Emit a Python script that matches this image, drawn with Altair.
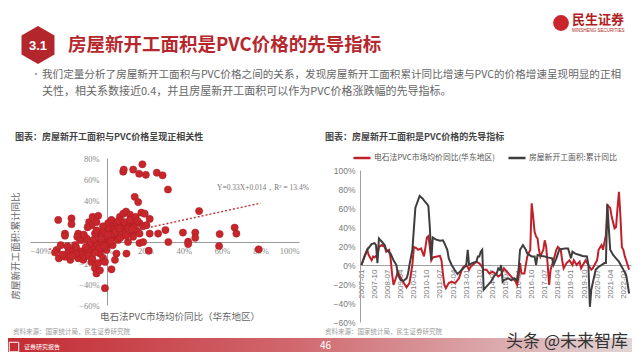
import altair as alt
import pandas as pd

# ---------------- data ----------------
scatter_x_pct = [-25.3, -18.4, -18.4, -21.8, -21.8, -14.9, -15.4, -9.2, -7.4, -4.5, -5.4, -8.0,
                 -26.0, -25.0, -21.8, -19.0, -20.0, -17.5, -16.6, -14.0, -12.3, -10.6, -13.2, -14.9,
                 -12.3, -10.6, -8.8, -7.1, -5.4, -3.6, -2.8, -1.9, -1.0, -6.2, -5.4, -8.0, -6.2, -5.4,
                 -3.6, -4.5, -1.0, 2.4, 4.2, 5.0, 10.2, 11.0, 17.0, 18.9, 22.3, 26.7, 32.0, 21.8,
                 0.7, 2.4, 3.3, 5.0, 6.8, 8.5, 10.0, 12.0, 13.7, 14.5, 16.3, 18.0, 19.7, 22.3, 17.0,
                 18.9, 20.6, 15.4, 12.8, 9.4, 6.8, 4.2, 1.6, 2.4, 5.9, 8.0, 11.0, 13.7, 17.0, -0.2,
                 -1.9, -3.6, -0.2, 8.5, 8.8, 13.7, 18.5, 16.8, 20.3, 26.0, 29.0, 31.8, 48.0, 30.5,
                 39.6, 46.0, 46.0, 42.3, 42.3, 58.7, 58.4, 66.5, 67.4, 79.0, -2.0, 0.5, 1.0, 3.0,
                 4.0, 6.0, 7.0, 9.0, 10.0, 11.0, 12.0, 14.0, 15.0, 16.0, -3.0, -4.0, -6.0, -7.0,
                 -9.0, -11.0, -13.0, -16.0, -18.0, -23.0, -2.0, -1.0, 1.0, 3.0, -10.0, -12.0, -27.0,
                 -24.0, -20.5, -16.0, -11.5, -9.5, -7.5, -3.0, -1.5, 0.5, 2.0, 4.5, 6.5, 13.0]
scatter_y_pct = [21.0, 22.5, 17.0, 8.0, 6.0, 8.0, 5.0, 19.0, 24.0, 25.0, 19.0, 16.0,
                 -7.6, -15.5, -14.0, -17.0, -9.0, -7.6, -2.9, 2.0, 2.0, 3.5, -9.0, -15.5,
                 -17.0, -10.8, -7.6, -4.4, -1.3, 5.0, 8.0, 11.0, 2.0, 8.0, 11.0, -19.0, -25.0, -30.0,
                 -27.0, -20.0, -44.0, -26.0, -17.0, -11.0, -11.0, 0.0, -1.0, 0.0, 8.0, 8.0, 0.0, -8.3,
                 18.0, 21.0, 15.0, 18.0, 24.0, 27.0, 29.0, 26.0, 18.0, 43.0, 38.0, 28.0, 27.0, 22.0, 18.0,
                 15.0, 16.0, 11.0, 8.0, 11.0, 8.0, 5.0, 10.0, 3.5, 2.0, 15.0, 18.0, 5.0, 8.0, -3.0,
                 -6.0, -11.0, -7.6, 67.0, 69.0, 69.0, 74.0, 65.0, 64.0, 66.0, 63.5, 50.0, 29.5, 11.4,
                 9.0, 9.0, 4.0, 0.3, -2.0, 7.6, -3.8, 13.7, 8.0, -7.0, 15.0, 5.0, 12.0, 8.0,
                 12.0, 20.0, 4.0, 19.0, 6.0, 13.0, 21.0, 14.0, 24.0, 20.0, 0.0, -6.0, -10.0, 2.0,
                 -2.0, -5.0, -12.0, -11.0, -13.0, -12.0, -15.0, -19.0, -1.0, -3.0, 14.0, 7.0, -10.0,
                 -3.0, -4.0, -5.0, -14.0, -13.0, -16.0, 3.0, -4.0, 7.0, 1.0, 10.0, 13.0, 12.0]

trend_x_pct = [-30.0, 80.0]
trend_y_pct = [-7.0, 37.0]

scatter_x_ticks = [-0.4, -0.2, 0.0, 0.2, 0.4, 0.6, 0.8, 1.0]
scatter_y_ticks = [-0.6, -0.4, -0.2, 0.0, 0.2, 0.4, 0.6, 0.8]

# months counted from 2007-01 (index 0)
pvc_month_idx = [0, 2, 4, 5, 7, 8, 9, 10, 11, 12, 14, 16, 17, 19, 20, 21, 22, 24, 25, 26, 28, 30,
                 31, 33, 34, 35, 36, 38, 39, 41, 43, 44, 45, 46, 47, 48, 49, 52, 54, 55, 56, 57, 58,
                 60, 62, 64, 65, 67, 69, 70, 72, 74, 75, 78, 79, 81, 82, 84, 86, 88, 90, 92, 94, 96,
                 98, 100, 102, 104, 106, 107, 108, 109, 110, 112, 114, 116, 117, 118, 119, 120, 121,
                 122, 123, 125, 126, 127, 128, 129, 130, 131, 132, 134, 135, 137, 138, 139, 141, 143,
                 145, 146, 148, 150, 151, 153, 154, 156, 158, 159, 162, 163, 165, 166, 168, 169, 171,
                 172, 174, 175, 176, 177, 178, 179, 180, 181, 182, 183, 184]
pvc_values = [0, 9, 16, 10.5, 5, 9, 8, 9.5, 9, 19, 21, 19, 14, 16, 7, -9, -21, -12, -7, -10.5, -16,
              -21, -23.5, -19, -9, 0, 19, 17.5, 16, 17.5, 9, 19, 29, 30.5, 19, 5, 8, 9, 9.5, 5, -9,
              -21, -24.5, -19, -17.5, -19, -18, -14, -5, -2, 0, -5, -2, 2, 3.5, 1.8, 0, -5, -5, -9,
              -7, -9, -12, -10, -3.5, -7, -10.5, -14, -17.5, -21, -12, 2, -9, -9, 9, 16, 65, 51, 35,
              30, 28, 16, 9, 16, 26, 19, 0, -21, -5, 0, 5, 16, 19, 16, 5, -3.5, 2, 5, 0, 5, 0, 3.5,
              -3.5, 2, 5, 0, -5, -3.5, 5, 16, 21, 16, 31.6, 63, 60, 51, 38.6, 40, 60, 77, 51, 19,
              16, 9, 5, 0, -5]

starts_month_idx = [0, 4, 7, 9, 10, 11, 12, 14, 16, 17, 20, 22, 24, 25, 27, 29, 31, 32, 33, 35, 37,
                    40, 42, 43, 45, 46, 47, 48, 49, 51, 54, 56, 57, 59, 60, 62, 64, 66, 67, 69, 71,
                    72, 73, 74, 76, 79, 80, 81, 82, 83, 84, 87, 89, 91, 93, 94, 95, 96, 97, 98, 101,
                    103, 105, 107, 108, 109, 111, 113, 114, 117, 119, 120, 121, 124, 126, 128, 131,
                    132, 134, 136, 137, 140, 142, 144, 145, 147, 150, 152, 155, 156, 157, 158, 160,
                    161, 163, 165, 167, 168, 169, 170, 171, 173, 175, 177, 179, 181, 182, 183, 184]
starts_values = [0, 16, 22, 23, 21, 2, 28, 24.5, 21, 16, 12, 5, 0, -10.5, -16, -16.5, -14, -9, 0, 16,
                 60, 72.6, 70, 68, 64.5, 62, 40, 5, 29, 27, 25.5, 26, 23, 16, 7, 0, -5, -9.5, -8, -5,
                 -2, 0, 16, 0, 2, 3.5, 9, 9, 14, 16, -26, -21, -17.5, -12, -9, -3.5, -5, 0, -17.5, -16,
                 -14, -16, -14, -16, -5, 16, 21, 16, 12, 9, 9, 0, 10.5, 9.5, 9, 8, 7, 0, 7, 16, 16.5,
                 17.5, 17.5, 7, 14, 12, 10.5, 9.5, 9, 0, -44, -26, -12, -5, -2, 0, 2, 2, 64, 40, 16,
                 10.5, 7, 3.5, -2, -8, -10.5, -20, -30]

line_y_ticks = [-0.6, -0.4, -0.2, 0.0, 0.2, 0.4, 0.6, 0.8, 1.0]
line_tick_months = ["2007-01", "2007-10", "2008-07", "2009-04", "2010-01", "2010-10", "2011-07",
                    "2012-04", "2013-01", "2013-10", "2014-07", "2015-04", "2016-01", "2016-10",
                    "2017-07", "2018-04", "2019-01", "2019-10", "2020-07", "2021-04", "2022-01"]

series_names = ["电石法PVC市场均价同比(华东地区)", "房屋新开工面积:累计同比"]
series_colors = ["#C0202A", "#3E3E3E"]

# ---------------- helpers ----------------
CJK = "Noto Sans CJK SC"


def idx_to_date(m):
    return f"{2007 + m // 12}-{m % 12 + 1:02d}-01"


def txt(s, x, y, size=10, color="#555", weight="normal", align="left", font=CJK, angle=0,
        baseline="middle"):
    return alt.Chart(pd.DataFrame({"t": [s]})).mark_text(
        align=align, baseline=baseline, font=font, fontSize=size, fontWeight=weight,
        color=color, angle=angle
    ).encode(x=alt.value(x), y=alt.value(y), text="t:N")


# ---------------- scatter (left) ----------------
sc_df = pd.DataFrame({"x": [v / 100 for v in scatter_x_pct], "y": [v / 100 for v in scatter_y_pct]})
tr_df = pd.DataFrame({"x": [v / 100 for v in trend_x_pct], "y": [v / 100 for v in trend_y_pct]})

sx = alt.Scale(domain=[-0.4, 1.0], range=[22, 291], nice=False, zero=False)
sy = alt.Scale(domain=[-0.6, 0.8], range=[297, 150], nice=False, zero=False)

sc_xaxis = alt.Axis(orient="bottom", offset=-110, values=scatter_x_ticks, format=".0%",
                    labelFont="Liberation Serif", labelFontSize=8.5, labelColor="#8a8a8a",
                    domainColor="#9a9a9a", ticks=False, grid=False, labelPadding=4, title=None)
sc_yaxis = alt.Axis(orient="left", offset=-99, values=scatter_y_ticks, format=".0%",
                    labelFont="Liberation Serif", labelFontSize=8.5, labelColor="#8a8a8a",
                    domainColor="#9a9a9a", ticks=False, grid=False, labelPadding=8, title=None)

points = alt.Chart(sc_df).mark_circle(size=52, opacity=1, color="#C8262B",
                                      stroke="#A31D22", strokeWidth=0.5).encode(
    x=alt.X("x:Q", scale=sx, axis=sc_xaxis),
    y=alt.Y("y:Q", scale=sy, axis=sc_yaxis),
)
trend = alt.Chart(tr_df).mark_line(color="#B8323A", strokeWidth=1.4, strokeDash=[2, 2]).encode(
    x=alt.X("x:Q", scale=sx), y=alt.Y("y:Q", scale=sy)
)
scatter = alt.layer(points, trend)

# ---------------- lines (right) ----------------
rows = []
for m, v in zip(pvc_month_idx, pvc_values):
    rows.append({"date": idx_to_date(m), "v": v / 100, "s": series_names[0]})
for m, v in zip(starts_month_idx, starts_values):
    rows.append({"date": idx_to_date(m), "v": v / 100, "s": series_names[1]})
ln_df = pd.DataFrame(rows)

tick_dates = [alt.DateTime(year=int(t[:4]), month=int(t[5:]), date=1, utc=True)
              for t in line_tick_months]
lx = alt.Scale(type="utc", domain=[alt.DateTime(year=2006, month=12, date=1, utc=True),
                                   alt.DateTime(year=2022, month=6, date=10, utc=True)],
               range=[352, 623], nice=False)
ly = alt.Scale(domain=[-0.6, 1.0], range=[314, 162], nice=False, zero=False)

lines = alt.Chart(ln_df).mark_line(strokeWidth=2).encode(
    x=alt.X("date:T", scale=lx,
            axis=alt.Axis(orient="bottom", offset=-87, values=tick_dates,
                          labelExpr="utcFormat(datum.value, '%Y-%m')", labelAngle=270,
                          labelFont="Liberation Sans", labelFontSize=8, labelColor="#7a7a7a",
                          domainColor="#a0a0a0", ticks=False, grid=False, labelPadding=4,
                          title=None)),
    y=alt.Y("v:Q", scale=ly,
            axis=alt.Axis(orient="left", offset=-352, values=line_y_ticks, format=".0%",
                          labelFont="Liberation Sans", labelFontSize=8.5, labelColor="#7a7a7a",
                          domainColor="#a0a0a0", ticks=False, grid=False, labelPadding=5,
                          title=None)),
    color=alt.Color("s:N", scale=alt.Scale(domain=series_names, range=series_colors),
                    legend=alt.Legend(orient="none", legendX=344, legendY=140,
                                      direction="horizontal", title=None, symbolType="stroke",
                                      symbolStrokeWidth=2.5, symbolSize=290, labelFont=CJK,
                                      labelFontSize=7.8, labelColor="#555", columnPadding=8,
                                      labelOffset=2, padding=0)),
    detail="s:N",
)

# ---------------- slide decoration ----------------
footer = alt.Chart(pd.DataFrame({"a": [0]})).mark_rect(
    fill=alt.Gradient(gradient="linear", x1=0, x2=1, y1=0, y2=0,
                      stops=[alt.GradientStop(offset=0, color="#C32A31"),
                             alt.GradientStop(offset=0.45, color="#D0666C"),
                             alt.GradientStop(offset=1, color="#E2D8D8")])
).encode(x=alt.value(-8), x2=alt.value(632), y=alt.value(330), y2=alt.value(352))

hexagon = alt.Chart(pd.DataFrame({"a": [0]})).mark_point(
    shape="M0,-1L0.866,-0.5L0.866,0.5L0,1L-0.866,0.5L-0.866,-0.5Z",
    filled=True, size=1450, color="#B3262C", opacity=1
).encode(x=alt.value(30), y=alt.value(37))

logo = alt.Chart(pd.DataFrame({"a": [0]})).mark_point(
    shape="circle", filled=True, size=250, color="#C8262B", opacity=1
).encode(x=alt.value(553), y=alt.value(15))

book = alt.Chart(pd.DataFrame({"a": [0]})).mark_point(
    shape="square", filled=False, size=90, color="white", strokeWidth=1, opacity=1
).encode(x=alt.value(6), y=alt.value(339))

texts = [
    txt("3.1", 30, 38, size=13, color="white", weight="bold", align="center",
        font="Liberation Sans"),
    txt("房屋新开工面积是PVC价格的先导指标", 60, 37, size=18.5, color="#B5282E", weight="bold"),
    txt("民生证券", 564, 12, size=13, color="#B01E23", weight="bold"),
    txt("MINSHENG SECURITIES", 564, 23, size=4.5, color="#B01E23", font="Liberation Sans"),
    txt("•", 23, 67, size=10, color="#999"),
    txt("我们定量分析了房屋新开工面积与PVC价格之间的关系，发现房屋新开工面积累计同比增速与PVC的价格增速呈现明显的正相",
        34, 67, size=10.6, color="#666"),
    txt("关性，相关系数接近0.4，并且房屋新开工面积可以作为PVC价格涨跌幅的先导指标。", 34, 84, size=11, color="#666"),
    txt("图表：房屋新开工面积与PVC价格呈现正相关性", 7, 129, size=9, color="#444", weight="bold"),
    txt("图表：房屋新开工面积是PVC价格的先导指标", 317, 129, size=9, color="#444", weight="bold"),
    txt("Y=0.33X+0.014，R² = 13.4%", 209, 180, size=7.5, color="#777", font="Liberation Serif"),
    txt("房屋新开工面积:累计同比", 8, 238, size=9.5, color="#666", angle=270, align="center"),
    txt("电石法PVC市场均价同比（华东地区）", 172, 309, size=9.5, color="#666", align="center"),
    txt("资料来源：国家统计局，民生证券研究院", 5, 324, size=6.5, color="#9a9a9a"),
    txt("资料来源：国家统计局，民生证券研究院", 317, 324, size=6.5, color="#9a9a9a"),
    txt("证券研究报告", 16, 339, size=6, color="white"),
    txt("46", 312, 338, size=10, color="white"),
    txt("头条 @未来智库", 620, 334, size=17, color="#333", align="right"),
]

chart = alt.layer(footer, scatter, lines, hexagon, logo, book, *texts).resolve_scale(
    x="independent", y="independent", color="independent"
).resolve_axis(x="independent", y="independent").properties(
    width=624, height=344, padding=0, autosize=alt.AutoSizeParams(type="none"),
    background="white"
).configure_view(stroke=None)

chart.save("out.html", embed_options={"renderer": "svg", "actions": False})
